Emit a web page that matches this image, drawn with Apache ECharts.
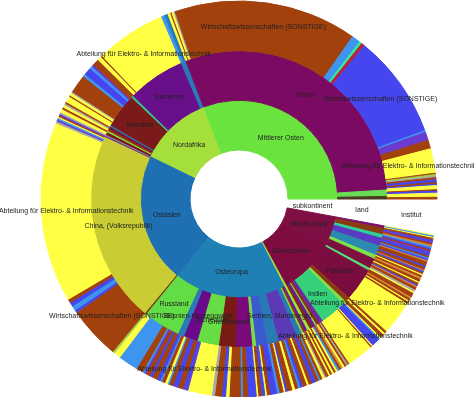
<!DOCTYPE html>
<html><head><meta charset="utf-8">
<script src="https://cdn.jsdelivr.net/npm/echarts@6/dist/echarts.min.js"></script>
<style>html,body{margin:0;padding:0;background:#fff}#c{width:474px;height:397px}</style>
</head><body><div id="c"></div>
<script>
// institutes: key, name, colour
const instituteKeys   = ['A','W','G','M','I','T','R','P','L','O','S'];
const instituteNames  = ['Abteilung für Elektro- & Informationstechnik','Wirtschaftswissenschaften (SONSTIGE)','Geisteswissenschaften (SONSTIGE)','Maschinenbau (SONSTIGE)','Informatik (SONSTIGE)','Chemie (SONSTIGE)','Rechtswissenschaften (SONSTIGE)','Physik (SONSTIGE)','Biologie (SONSTIGE)','Architektur (SONSTIGE)','Mathematik (SONSTIGE)'];
const instituteColors = ['#ffff44','#a3410d','#4646ef','#3d95f0','#6a3bd0','#33e6a0','#b82236','#a8a8a8','#a0d050','#d98a3a','#2a78b8'];

// countries: [name, colour, showLabel, [[institute, value], ...]]
const header = [['land','#ffffff',1,[['institut',10.5]]]];
const westeuropa = [
 ['Frankreich','#7a0f6e',0,[['A',0.3],['M',0.4],['A',0.3]]],
 ['Italien','#8a3a10',0,[['W',0.6],['G',0.5],['I',0.4],['W',0.5],['O',0.5]]],
 ['Spanien','#2ed19a',0,[['M',0.5],['G',0.5],['W',0.4]]],
 ['Österreich','#5a3ac0',0,[['I',0.6],['G',0.8],['W',0.5],['M',0.4],['G',0.5],['O',0.4]]],
 ['Deutschland','#2a8ab0',0,[['W',1.2],['G',0.5],['W',0.8],['O',0.3],['G',0.5],['W',0.5]]],
 ['Schweiz','#7ee04a',0,[['A',0.4],['W',0.6],['O',0.6]]],
 ['Niederlande','#7d0f3f',0,[['W',0.8],['A',0.4],['W',0.6],['G',0.4],['O',0.4],['W',0.8],['P',0.6]]],
 ['Belgien','#55dd77',0,[['A',0.5],['W',0.5]]]
];
const suedostasien = [
 ['Pakistan','#7b0c40',1,[['W',0.8],['O',0.5],['W',0.7],['A',0.4],['W',0.6],['A',10]]],
 ['Bangladesch','#8a3a10',0,[['W',0.7],['A',0.6],['W',0.7]]],
 ['Sri Lanka','#88e044',0,[['W',0.4],['A',0.4],['M',0.4]]],
 ['Indien','#35d07a',1,[['G',2.5],['A',0.4],['W',0.4],['A',7.2]]],
 ['Vietnam','#6a2aa8',0,[['A',0.6],['W',0.5],['P',0.5]]],
 ['Indonesien','#8a3010',0,[['W',0.6],['A',0.6]]],
 ['Thailand','#88dd44',0,[['O',0.6]]],
 ['Malaysia','#6a1a9a',0,[['W',0.6],['M',0.6]]],
 ['Philippinen','#7a2a10',0,[['A',0.6],['W',0.6]]]
];
const nordamerika = [['USA','#a6e23a',0,[['A',0.6],['W',0.6]]]];
const osteuropa = [
 ['Ukraine','#6a1a9a',0,[['A',0.5],['W',0.5]]],
 ['Rumänien','#8a3a10',0,[['W',0.4],['P',0.4]]],
 ['Kroatien','#88dd44',0,[['A',0.7]]],
 ['Slowakei','#2a7ab5',0,[['W',0.7],['M',0.5],['W',0.9]]],
 ['Serbien, Montenegro','#5a3ab5',1,[['G',1.2],['W',1.0],['A',0.6],['W',1.2],['G',0.8],['M',0.6],['W',1.0],['A',0.8]]],
 ['Polen','#2a7ab5',0,[['W',1.5],['G',0.6],['A',0.5],['W',1.2],['M',0.7]]],
 ['Slowenien','#3a5ad0',0,[['G',2],['W',1],['A',0.5],['G',1]]],
 ['Litauen','#77dd44',0,[['W',1],['A',0.5]]],
 ['Ungarn','#7a0a7a',0,[['G',2.5],['W',1.5],['M',0.6],['W',1.8]]],
 ['Griechenland','#7a1a14',1,[['W',1.5],['A',1.0],['G',1.2],['W',2],['P',0.9]]],
 ['Tschechien','#66dd44',1,[['A',7],['I',0.5],['G',1]]],
 ['Bosnien-Herzegowina','#6a0a8a',1,[['W',1.5],['G',1.5],['W',1.2],['M',0.5],['A',0.8]]],
 ['Bulgarien','#2a7ab5',0,[['W',1],['M',0.5],['G',1]]],
 ['Russland','#62dd45',1,[['W',1.5],['G',0.8],['W',1.2],['I',0.6],['M',0.6],['W',2],['M',5.8],['A',2]]]
];
const ostasien = [
 ['Japan','#7a3a10',0,[['L',0.6]]],
 ['China, (Volksrepublik)','#c9cc33',1,[['W',15.5],['G',0.8],['M',1.4],['G',1.2],['W',1.1],['A',53],['P',0.6],['I',0.5],['M',0.5],['A',0.4],['W',0.4]]],
 ['Korea, Republik','#6a2a9a',0,[['I',0.5]]],
 ['Taiwan','#8a8a8a',0,[['P',0.5]]]
];
const nordafrika = [
 ['Algerien','#7a1414',0,[['A',1]]],
 ['Libyen','#88dd44',0,[['W',0.6]]],
 ['Sudan','#8a3a10',0,[['A',0.8]]],
 ['Äthiopien','#7b1030',0,[['P',0.5],['W',0.5]]],
 ['Ghana','#2a7ab5',0,[['A',0.6]]],
 ['Marokko','#7a1a1a',1,[['A',1.2],['W',0.4],['A',0.8],['P',0.4],['W',5.5],['M',0.8],['G',2.2],['M',0.8],['I',0.6],['W',0.8]]],
 ['Tunesien','#2ec990',0,[['W',0.8]]],
 ['Kamerun','#67108a',1,[['W',0.4],['A',1.2],['W',0.4],['A',20.7]]],
 ['Ägypten','#2a78b8',0,[['M',1],['S',1]]]
];
const mittlererOsten = [
 ['Türkei','#7a0a62',1,[['A',0.8],['W',0.4],['A',0.6],['P',0.4],['W',53.8],['M',2.5],['T',0.8],['R',1],['G',30.5],['M',0.5],['I',2.5],['W',2.5],['A',7.2],['W',0.4],['L',0.5],['P',0.4],['W',0.6],['G',0.8],['W',0.5],['G',0.4],['A',0.4]]],
 ['Iran','#66dd55',0,[['A',0.8],['W',0.4],['G',0.6],['A',0.7]]],
 ['Syrien','#4a3a20',0,[['A',0.5],['W',0.5]]]
];
// subcontinents: [name, colour, showLabel, countries]
const subcontinents = [
 ['subkontinent','#ffffff',1,header],
 ['Westeuropa','#7e0f44',1,westeuropa],
 ['Südostasien','#7e0c40',1,suedostasien],
 ['Nordamerika','#a6e23a',0,nordamerika],
 ['Osteuropa','#1f80b5',1,osteuropa],
 ['Ostasien','#1f70b2',1,ostasien],
 ['Nordafrika','#a5df3b',1,nordafrika],
 ['Mittlerer Osten','#6be33f',1,mittlererOsten]
];

let uid = 0;
function style(c){ return {color:c, borderWidth:1, borderColor:c}; }
function instNodes(list){
  return list.map(function(e){
    const i = instituteKeys.indexOf(e[0]);
    if (i < 0) return {id:'n'+(uid++), name:e[0], value:e[1], itemStyle:style('#ffffff'), label:{show:true}};
    return {id:'n'+(uid++), name:instituteNames[i], value:e[1], itemStyle:style(instituteColors[i]), label:{show:e[1] >= 6.5}};
  });
}
const data = subcontinents.map(function(s){
  return {id:'n'+(uid++), name:s[0], itemStyle:style(s[1]), label:{show:!!s[2]},
    children:s[3].map(function(c){
      return {id:'n'+(uid++), name:c[0], itemStyle:style(c[1]), label:{show:!!c[2]}, children:instNodes(c[3])};
    })};
});

const chart = echarts.init(document.getElementById('c'));
chart.setOption({
  animation:false,
  series:[{
    type:'sunburst',
    center:[239,199],
    radius:[49,198],
    startAngle:0,
    sort:null,
    nodeClick:false,
    itemStyle:{borderWidth:1},
    label:{rotate:0, fontSize:7, color:'#222', fontFamily:'Liberation Sans, Arial, sans-serif'},
    data:data
  }]
});
</script>
</body></html>
